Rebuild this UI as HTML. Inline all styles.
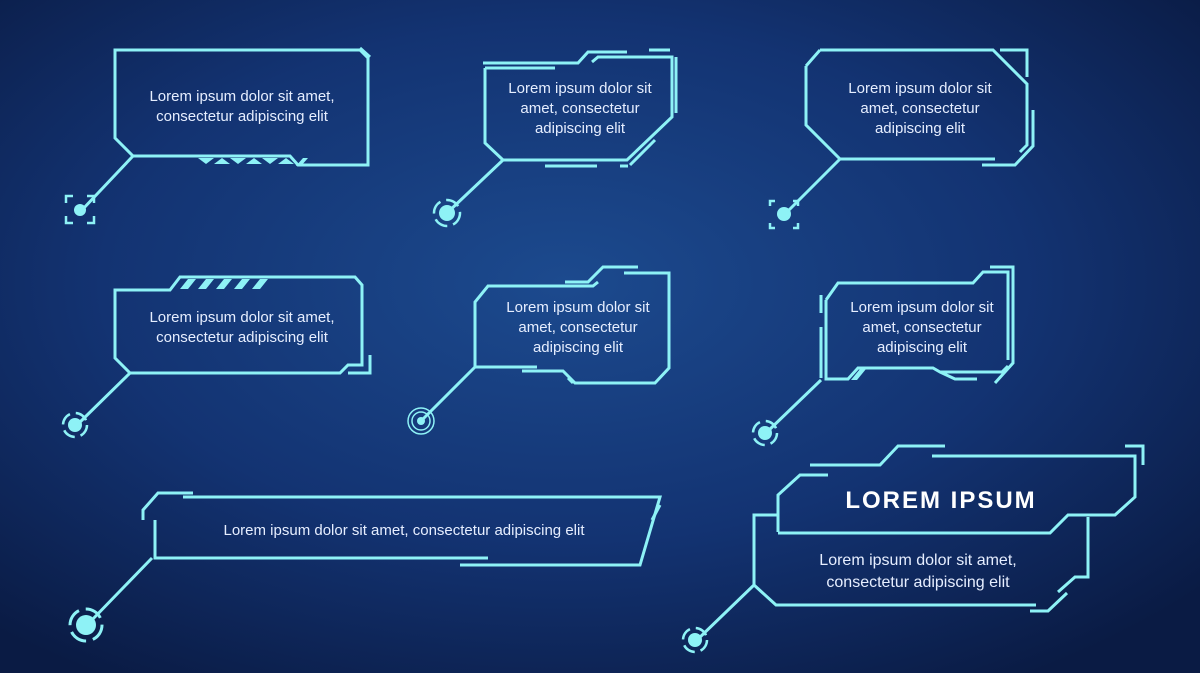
<!DOCTYPE html>
<html><head><style>
html,body{margin:0;padding:0;width:1200px;height:673px;overflow:hidden;background:#0d1f4d}
svg{display:block}
text{font-family:"Liberation Sans","DejaVu Sans",sans-serif;fill:#e6eeff;font-size:15px;text-anchor:middle}
</style></head><body>
<svg width="1200" height="673" viewBox="0 0 1200 673">
<defs>
<radialGradient id="bg" cx="0.47" cy="0.42" r="0.7">
<stop offset="0" stop-color="#1c4a8e"/>
<stop offset="0.55" stop-color="#133372"/>
<stop offset="1" stop-color="#0a1b44"/>
</radialGradient>
</defs>
<rect width="1200" height="673" fill="url(#bg)"/>
<g fill="none" stroke="#8ef2f6" stroke-width="3" stroke-linejoin="miter">
<!-- box1 -->
<path d="M115,50 H360 L368,58 V165 H298 L290,156 H133 L115,138 Z"/>
<path d="M360,48 L370,57"/>
<path d="M133,156 L82,210"/>
<path d="M66,203 V196 H73 M87,196 H94 V203 M94,216 V223 H87 M73,223 H66 V216" stroke-width="2.5"/>
<!-- box2 -->
<path d="M483,63 H578 L588,52 H627 M649,50 H670"/>
<path d="M485,68 H555 M485,68 V143 L503,160 H627 L672,117 V57 H598 L592,62"/>
<path d="M676,57 V113 M545,166 H597 M620,166 H628 M630,165 L655,140"/>
<path d="M503,160 L447,213"/>
<circle cx="447" cy="213" r="13" stroke-width="2.5" stroke-dasharray="14 6"/>
<!-- box3 -->
<path d="M820,50 H993 L1027,84 V145 L1020,152 M806,66 L820,50 M806,66 V125 L840,159 H995"/>
<path d="M1000,50 H1027 V77"/>
<path d="M1033,110 V146 L1015,165 H982"/>
<path d="M840,159 L786,213"/>
<path d="M770,206 V201 H775 M793,201 H798 V206 M798,223 V228 H793 M775,228 H770 V223" stroke-width="2.5"/>
<!-- box4 -->
<path d="M115,290 H170 L180,277 H355 L362,285 V365 H348 L340,373 H130 L115,358 Z"/>
<path d="M348,373 H370 V355"/>
<path d="M130,373 L77,425"/>
<circle cx="75" cy="425" r="12" stroke-width="2.5" stroke-dasharray="13 6"/>
<!-- box5 -->
<path d="M475,367 V302 L488,286 H593 L598,282"/>
<path d="M565,282 H588 L603,267 H638 M624,273 H669 V368 L655,383 H575 L563,371 H522 M475,367 H537"/>
<path d="M568,378 L573,383"/>
<path d="M475,367 L421,421"/>
<circle cx="421" cy="421" r="13" stroke-width="1.5"/>
<circle cx="421" cy="421" r="9" stroke-width="1.5"/>
<!-- box6 -->
<path d="M826,300 L838,283 H973 L983,272 H1008 V360 M826,300 V379 H848 L858,368 H933 L940,372 H1002 L1008,366"/>
<path d="M990,267 H1013 V363 L995,383 M940,372 L955,379 H977 M821,295 V313 M821,327 V378"/>
<path d="M821,380 L767,432"/>
<circle cx="765" cy="433" r="12" stroke-width="2.5" stroke-dasharray="13 6"/>
<!-- box7 -->
<path d="M183,497 H660 L640,565 H460 M488,558 H155 V520"/>
<path d="M143,520 V510 L158,493 H193 M652,520 L660,505"/>
<path d="M152,558 L90,622"/>
<circle cx="86" cy="625" r="16" stroke-width="3" stroke-dasharray="18 7"/>
<!-- box8 -->
<path d="M778,532 V495 L800,475 H828 M810,465 H880 L898,446 H945 M932,456 H1135 V497 L1115,515 H1068 L1050,533 H778"/>
<path d="M1125,446 H1143 V465"/>
<path d="M778,515 H754 V585 L776,605 H1036 M1088,517 V577 H1075 L1058,592 M1067,593 L1048,611 H1030"/>
<path d="M754,585 L697,640"/>
<circle cx="695" cy="640" r="12" stroke-width="2.5" stroke-dasharray="13 6"/>
</g>
<g fill="#8ef2f6">
<circle cx="80" cy="210" r="6"/>
<circle cx="447" cy="213" r="8"/>
<circle cx="784" cy="214" r="7"/>
<circle cx="75" cy="425" r="7"/>
<circle cx="421" cy="421" r="4"/>
<circle cx="765" cy="433" r="7"/>
<circle cx="86" cy="625" r="10"/>
<circle cx="695" cy="640" r="7"/>
<path d="M198,158 L206,164 L214,158Z M214,164 L222,158 L230,164Z M230,158 L238,164 L246,158Z M246,164 L254,158 L262,164Z M262,158 L270,164 L278,158Z M278,164 L286,158 L294,164Z"/>
<path d="M180,289 L188,279 H196 L188,289Z M198,289 L206,279 H214 L206,289Z M216,289 L224,279 H232 L224,289Z M234,289 L242,279 H250 L242,289Z M252,289 L260,279 H268 L260,289Z"/>
<path d="M296,166 L303,158 H308 L301,166Z M851,380 L860,369 H866 L857,380Z"/>
</g>
<text x="242" y="101">Lorem ipsum dolor sit amet,</text>
<text x="242" y="121">consectetur adipiscing elit</text>
<text x="580" y="93">Lorem ipsum dolor sit</text>
<text x="580" y="113">amet, consectetur</text>
<text x="580" y="133">adipiscing elit</text>
<text x="920" y="93">Lorem ipsum dolor sit</text>
<text x="920" y="113">amet, consectetur</text>
<text x="920" y="133">adipiscing elit</text>
<text x="242" y="322">Lorem ipsum dolor sit amet,</text>
<text x="242" y="342">consectetur adipiscing elit</text>
<text x="578" y="312">Lorem ipsum dolor sit</text>
<text x="578" y="332">amet, consectetur</text>
<text x="578" y="352">adipiscing elit</text>
<text x="922" y="312">Lorem ipsum dolor sit</text>
<text x="922" y="332">amet, consectetur</text>
<text x="922" y="352">adipiscing elit</text>
<text x="404" y="535">Lorem ipsum dolor sit amet, consectetur adipiscing elit</text>
<text x="941" y="508" style="font-size:24px;font-weight:bold;letter-spacing:2px;fill:#fff">LOREM IPSUM</text>
<text x="918" y="565" style="font-size:16px">Lorem ipsum dolor sit amet,</text>
<text x="918" y="587" style="font-size:16px">consectetur adipiscing elit</text>
</svg>
</body></html>
